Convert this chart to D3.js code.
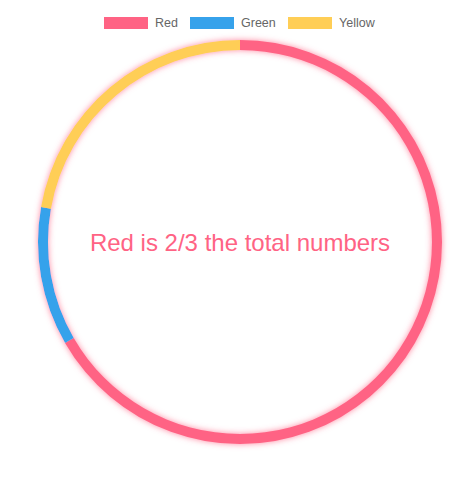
<!DOCTYPE html>
<html>
<head>
<meta charset="utf-8">
<script src="https://cdn.jsdelivr.net/npm/d3@7"></script>
<style>
  html, body { margin: 0; padding: 0; background: #fff; }
  svg { display: block; font-family: "Liberation Sans", Arial, Helvetica, sans-serif; }
</style>
</head>
<body>
<svg id="chart" width="474" height="479"></svg>
<script>
// chart data
const labels = ["Red", "Green", "Yellow"];
const values = [300, 50, 100];
const colors = ["#FF6384", "#36A2EB", "#FFCE56"];
const centerText = "Red is 2/3 the total numbers";

const svg = d3.select("#chart"),
  width = +svg.attr("width"),
  height = +svg.attr("height");

const cx = 240, cy = 242, outerR = 202, innerR = 192;

// pink glow around the ring
const defs = svg.append("defs");
const glow = defs.append("filter")
  .attr("id", "glow")
  .attr("x", "-20%").attr("y", "-20%")
  .attr("width", "140%").attr("height", "140%");
glow.append("feDropShadow")
  .attr("dx", 0).attr("dy", 0)
  .attr("stdDeviation", 3)
  .attr("flood-color", "#FF6384")
  .attr("flood-opacity", 0.75);

const pie = d3.pie().sort(null).value(d => d);
const arc = d3.arc().innerRadius(innerR).outerRadius(outerR);

const g = svg.append("g")
  .attr("transform", `translate(${cx},${cy})`)
  .attr("filter", "url(#glow)");

g.selectAll("path")
  .data(pie(values))
  .join("path")
  .attr("d", arc)
  .attr("fill", (d, i) => colors[i]);

// center label
svg.append("text")
  .attr("x", cx)
  .attr("y", cy)
  .attr("text-anchor", "middle")
  .attr("dominant-baseline", "central")
  .attr("fill", "#FF6384")
  .attr("font-size", 24)
  .text(centerText);

// legend
const legendX = [104, 190, 288];
const legend = svg.append("g").selectAll("g")
  .data(labels)
  .join("g")
  .attr("transform", (d, i) => `translate(${legendX[i]},17)`);

legend.append("rect")
  .attr("width", 44)
  .attr("height", 12)
  .attr("fill", (d, i) => colors[i]);

legend.append("text")
  .attr("x", 51)
  .attr("y", 6)
  .attr("dominant-baseline", "central")
  .attr("fill", "#666")
  .attr("font-size", 12.5)
  .text(d => d);
</script>
</body>
</html>
